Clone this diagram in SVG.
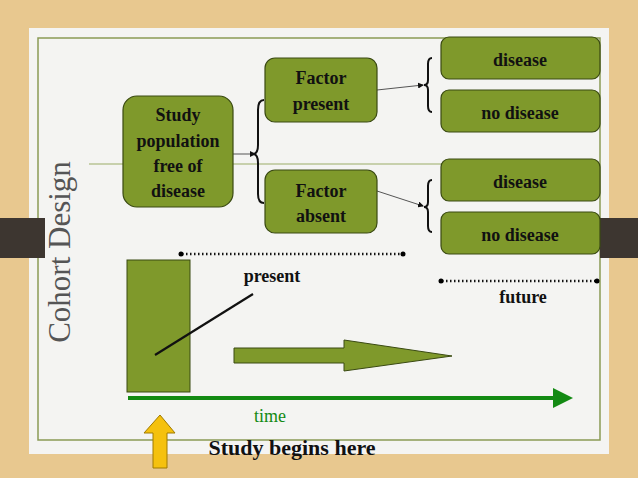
<svg xmlns="http://www.w3.org/2000/svg" width="638" height="478" viewBox="0 0 638 478">
<defs>
<style>
.b{fill:#7f992b;stroke:#3a4a12;stroke-width:1.2}
.t{font-family:"Liberation Serif",serif;font-weight:bold;font-size:18px;fill:#111;text-anchor:middle}
.br{fill:none;stroke:#111;stroke-width:2}
.c{stroke:#555;stroke-width:1;fill:none}
.d{stroke:#111;stroke-width:2.5;stroke-dasharray:1.5 2.5;fill:none}
</style>
<marker id="a" markerWidth="6" markerHeight="6" refX="5" refY="3" orient="auto"><path d="M0,0L6,3L0,6z" fill="#111"/></marker>
<marker id="g" markerWidth="5" markerHeight="5" refX="3" refY="2.5" orient="auto"><path d="M0,0L5,2.5L0,5z" fill="#138a13"/></marker>
</defs>
<rect width="638" height="478" fill="#e8c88f"/>
<rect x="29" y="28" width="580" height="426" fill="#f4f4f2"/>
<rect x="38" y="38" width="562" height="402" fill="none" stroke="#8a9a55" stroke-width="1.5"/>
<rect x="0" y="218" width="45" height="40" fill="#3d3630"/>
<rect x="600" y="218" width="38" height="40" fill="#3d3630"/>
<text transform="translate(70,252) rotate(-90)" font-family="Liberation Serif,serif" font-size="31" fill="#555" text-anchor="middle">Cohort Design</text>
<g id="connectors">
<line x1="89" y1="164" x2="442" y2="164" stroke="#9aab66" stroke-width="1.2"/>
<line x1="233" y1="154" x2="255" y2="154" class="c" stroke="#111" marker-end="url(#a)"/>
<path class="br" d="M264,100 Q258,100 258,110 L258,145 Q258,154 253,154 Q258,154 258,163 L258,194 Q258,203 264,203"/>
<line x1="377" y1="90" x2="423" y2="85" class="c" marker-end="url(#a)"/>
<line x1="377" y1="191" x2="423" y2="206" class="c" marker-end="url(#a)"/>
<path class="br" d="M432,58 Q428,58 428,64 L428,80 Q428,85 424,85 Q428,85 428,90 L428,106 Q428,112 432,112"/>
<path class="br" d="M432,180 Q428,180 428,186 L428,202 Q428,207 424,207 Q428,207 428,212 L428,226 Q428,232 432,232"/>
<line class="d" x1="182" y1="254" x2="402" y2="254"/>
<circle cx="181" cy="254" r="2.5"/><circle cx="403" cy="254" r="2.5"/>
<line class="d" x1="442" y1="281" x2="596" y2="281"/>
<circle cx="441" cy="281" r="2.5"/><circle cx="597" cy="281" r="2.5"/>
<line x1="128" y1="398" x2="565" y2="398" stroke="#138a13" stroke-width="4" marker-end="url(#g)"/>
</g>
<g id="study"><rect class="b" x="123" y="96" width="110" height="111" rx="14"/>
<text class="t" x="178" y="121">Study</text><text class="t" x="178" y="147">population</text><text class="t" x="178" y="172">free of</text><text class="t" x="178" y="197">disease</text></g>
<g id="fp"><rect class="b" x="265" y="58" width="112" height="64" rx="10"/><text class="t" x="321" y="84">Factor</text><text class="t" x="321" y="110">present</text></g>
<g id="fa"><rect class="b" x="265" y="170" width="112" height="63" rx="10"/><text class="t" x="321" y="197">Factor</text><text class="t" x="321" y="222">absent</text></g>
<g id="d1"><rect class="b" x="441" y="37" width="159" height="42" rx="8"/><text class="t" x="520" y="66">disease</text></g>
<g id="n1"><rect class="b" x="441" y="90" width="159" height="42" rx="8"/><text class="t" x="520" y="119">no disease</text></g>
<g id="d2"><rect class="b" x="441" y="159" width="159" height="42" rx="8"/><text class="t" x="520" y="188">disease</text></g>
<g id="n2"><rect class="b" x="441" y="212" width="159" height="42" rx="8"/><text class="t" x="520" y="241">no disease</text></g>
<text class="t" x="272" y="282">present</text>
<text class="t" x="523" y="303">future</text>
<g id="bar"><rect x="127" y="260" width="63" height="132" fill="#7f992b" stroke="#3a4a12"/></g>
<line x1="155" y1="355" x2="253" y2="294" stroke="#111" stroke-width="2.2"/>
<g id="fat"><path d="M234,348 H344 V340 L452,356 L344,371 V363 H234 Z" fill="#7f992b" stroke="#3a4a12"/></g>
<text x="270" y="422" font-family="Liberation Serif,serif" font-size="18" fill="#138a13" text-anchor="middle">time</text>
<path d="M160,415 L175,433 H167 V468 H153 V433 H144 Z" fill="#f5c10e" stroke="#a07a00"/>
<text x="292" y="455" font-family="Liberation Serif,serif" font-weight="bold" font-size="22" fill="#111" text-anchor="middle">Study begins here</text>
</svg>
